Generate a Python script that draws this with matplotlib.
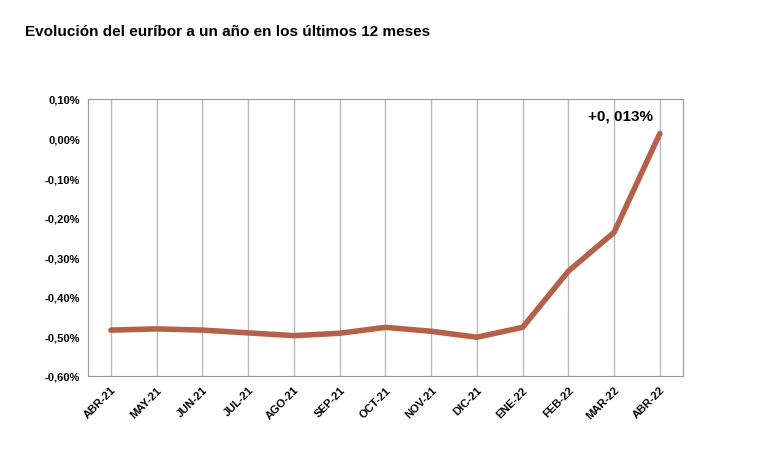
import matplotlib
matplotlib.use("Agg")
import matplotlib.pyplot as plt

months = ["ABR-21","MAY-21","JUN-21","JUL-21","AGO-21","SEP-21","OCT-21","NOV-21","DIC-21","ENE-22","FEB-22","MAR-22","ABR-22"]
euribor = [-0.484,-0.481,-0.484,-0.491,-0.498,-0.492,-0.477,-0.487,-0.502,-0.477,-0.335,-0.237,0.013]
yticks = [0.10,0.00,-0.10,-0.20,-0.30,-0.40,-0.50,-0.60]

plt.rcParams['font.family'] = ['Liberation Sans', 'DejaVu Sans']
fig = plt.figure(figsize=(7.68,4.64), dpi=100)
ax = fig.add_axes([0.1146,0.1875,0.7744,0.597])
x = list(range(len(months)))
ax.plot(x, euribor, color='#b5614a', lw=4, solid_capstyle='round', zorder=3)
ax.set_xlim(-0.5, len(months)-0.5)
ax.set_ylim(-0.60, 0.10)
ax.set_yticks(yticks)
ax.set_yticklabels([f"{v:.2f}%".replace('.', ',') for v in yticks], fontsize=8, fontweight='bold')
ax.set_xticks(x)
ax.set_xticklabels(months, rotation=45, ha='right', rotation_mode='anchor', fontsize=8, fontweight='bold')
ax.grid(axis='x', color='#bbbbbb', lw=1)
ax.tick_params(length=0, pad=6)
for s in ax.spines.values():
    s.set_color('#999999')
ax.annotate("+0, 013%", (x[-1], euribor[-1]), xytext=(-5, 8), textcoords='offset points',
            ha='right', va='bottom', fontsize=11, fontweight='bold')
fig.text(0.033, 0.93, "Evolución del euríbor a un año en los últimos 12 meses", fontsize=11, fontweight='bold', va='center')
fig.savefig("out.png", dpi=100)
